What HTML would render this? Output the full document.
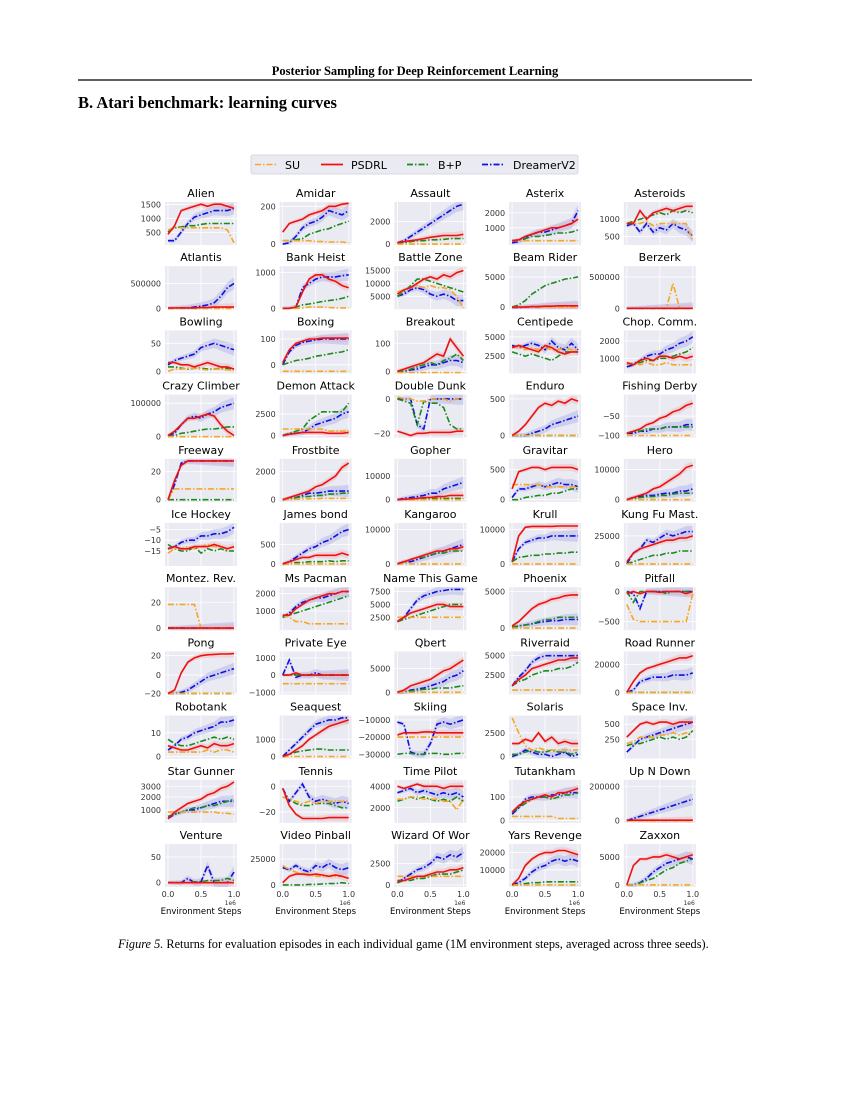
<!DOCTYPE html>
<html><head><meta charset="utf-8"><style>
body{margin:0;background:#fff;width:850px;height:1100px;overflow:hidden}
svg{display:block}
</style></head><body>
<svg id="s" width="850" height="1100" xmlns="http://www.w3.org/2000/svg">
<text x="415" y="75" text-anchor="middle" font-family="Liberation Serif,serif" font-weight="bold" font-size="12.5">Posterior Sampling for Deep Reinforcement Learning</text>
<line x1="78" y1="80" x2="752" y2="80" stroke="#000" stroke-width="1.2"/>
<text x="78" y="108" font-family="Liberation Serif,serif" font-weight="bold" font-size="16.5">B. Atari benchmark: learning curves</text>
<rect x="251" y="155" width="327" height="19" fill="#eaeaf2" stroke="#d8d8e0" rx="2"/>
<line x1="255" y1="164.5" x2="277" y2="164.5" stroke="#f5a623" stroke-width="1.5" stroke-dasharray="6,2,1.5,2"/>
<text x="285" y="169" font-family="DejaVu Sans,sans-serif" font-size="11">SU</text>
<line x1="321" y1="164.5" x2="343" y2="164.5" stroke="#ee1111" stroke-width="1.8"/>
<text x="351" y="169" font-family="DejaVu Sans,sans-serif" font-size="11">PSDRL</text>
<line x1="407" y1="164.5" x2="430" y2="164.5" stroke="#1a8a1a" stroke-width="1.8" stroke-dasharray="6,2,1.5,2"/>
<text x="438" y="169" font-family="DejaVu Sans,sans-serif" font-size="11">B+P</text>
<line x1="482" y1="164.5" x2="504" y2="164.5" stroke="#1010dd" stroke-width="1.8" stroke-dasharray="6,2,1.5,2"/>
<text x="513" y="169" font-family="DejaVu Sans,sans-serif" font-size="11">DreamerV2</text>
<text x="118" y="948" font-family="Liberation Serif,serif" font-size="12.3"><tspan font-style="italic">Figure 5.</tspan> Returns for evaluation episodes in each individual game (1M environment steps, averaged across three seeds).</text>
<g id="g"></g>
</svg>
<script>
function c(v){return typeof v==='number'?Array(11).fill(v):v}
var P=[
["Alien",[["1500",.94],["1000",.62],["500",.29]],[.35,.4,.4,.4,.4,.4,.4,.4,.4,.35,.05],[.25,.45,.8,.85,.9,.95,.9,.95,.95,.9,.85],[.3,.4,.42,.45,.45,.48,.5,.5,.5,.5,.5],[.1,.1,.3,.5,.65,.7,.75,.8,.8,.8,.85]],
["Amidar",[["200",.9],["0",.02]],[.1,.1,.1,.1,.1,.08,.08,.07,.07,.07,.05],[.3,.5,.55,.6,.7,.75,.8,.9,.9,.95,.97],[.1,.1,.12,.15,.25,.3,.35,.38,.45,.5,.55],[.02,.05,.2,.4,.5,.55,.65,.8,.75,.7,.8]],
["Assault",[["2000",.55],["0",.02]],.02,[.05,.08,.1,.12,.15,.18,.2,.22,.22,.22,.25],[.03,.05,.08,.1,.1,.12,.12,.13,.15,.15,.15],[.05,.1,.2,.3,.4,.5,.6,.7,.8,.9,.95]],
["Asterix",[["2000",.75],["1000",.4]],.1,[.1,.12,.2,.25,.3,.35,.4,.4,.45,.5,.6],[.1,.12,.15,.2,.2,.22,.25,.28,.28,.3,.35],[.05,.08,.15,.25,.3,.3,.35,.4,.45,.5,.8]],
["Asteroids",[["1000",.6],["500",.2]],[.5,.5,.5,.55,.45,.5,.5,.5,.5,.5,.1],[.5,.5,.8,.6,.75,.8,.85,.8,.85,.9,.9],[.5,.55,.6,.65,.7,.75,.7,.8,.75,.8,.75],[.45,.5,.3,.5,.3,.4,.35,.5,.4,.35,.2]],
["Atlantis",[["500000",.6],["0",.02]],.02,[.03,.03,.03,.03,.03,.04,.04,.05,.05,.05,.05],.02,[.02,.02,.03,.03,.05,.07,.1,.15,.3,.5,.6]],
["Bank Heist",[["1000",.85],["0",.02]],[.02,.02,.02,.03,.05,.05,.05,.04,.03,.03,.03],[.02,.02,.05,.4,.7,.8,.8,.7,.65,.55,.5],[.02,.02,.05,.1,.12,.15,.18,.2,.22,.25,.3],[.02,.02,.05,.5,.6,.7,.75,.75,.75,.78,.8]],
["Battle Zone",[["15000",.9],["10000",.6],["5000",.3]],[.4,.45,.5,.55,.5,.55,.5,.5,.45,.3,.02],[.35,.45,.5,.6,.7,.75,.7,.8,.75,.85,.9],[.3,.4,.55,.7,.7,.65,.6,.55,.5,.45,.4],[.3,.35,.45,.5,.45,.35,.3,.35,.3,.2,.2]],
["Beam Rider",[["5000",.75],["0",.05]],.05,[.05,.05,.05,.06,.06,.07,.07,.08,.08,.08,.08],[.05,.1,.2,.35,.45,.55,.6,.65,.7,.72,.75],[.04,.04,.05,.05,.05,.06,.06,.06,.06,.06,.06]],
["Berzerk",[["500000",.75],["0",.02]],[.02,.02,.02,.02,.02,.02,.02,.6,.02,.02,.02],.02,.02,.02],
["Bowling",[["50",.7],["0",.05]],[.05,.1,.1,.12,.12,.1,.08,.1,.1,.08,.08],[.25,.25,.2,.2,.15,.2,.25,.2,.15,.15,.1],[.15,.15,.12,.1,.12,.12,.1,.1,.12,.12,.1],[.2,.3,.35,.4,.45,.6,.65,.7,.65,.6,.55]],
["Boxing",[["100",.8],["0",.2]],.05,[.25,.55,.7,.75,.8,.8,.82,.82,.82,.82,.82],[.2,.25,.3,.32,.35,.4,.42,.45,.48,.5,.55],[.2,.5,.65,.72,.75,.78,.8,.8,.8,.8,.8]],
["Breakout",[["100",.7],["0",.05]],.02,[.05,.1,.15,.2,.25,.35,.45,.4,.8,.6,.4],[.05,.05,.1,.15,.2,.25,.2,.3,.35,.45,.3],[.03,.05,.08,.1,.15,.2,.2,.25,.3,.3,.25]],
["Centipede",[["5000",.85],["2500",.4]],[.6,.6,.55,.6,.55,.6,.55,.55,.6,.55,.55],[.6,.65,.6,.55,.5,.65,.6,.5,.45,.5,.5],[.5,.45,.4,.45,.4,.35,.3,.4,.5,.5,.5],[.65,.6,.65,.7,.65,.55,.75,.6,.55,.7,.55]],
["Chop. Comm.",[["2000",.75],["1000",.35]],[.2,.25,.2,.25,.2,.2,.25,.2,.2,.2,.2],[.25,.2,.3,.35,.3,.4,.4,.35,.4,.35,.4],[.2,.25,.25,.3,.3,.35,.35,.4,.45,.5,.6],[.15,.2,.3,.4,.45,.45,.55,.6,.7,.75,.85]],
["Crazy Climber",[["100000",.8],["0",.02]],.02,[.05,.15,.3,.45,.45,.5,.55,.5,.3,.15,.05],[.02,.05,.1,.12,.15,.18,.2,.2,.22,.25,.25],[.05,.1,.3,.45,.5,.45,.55,.6,.7,.75,.8]],
["Demon Attack",[["2500",.55],["0",.05]],[.2,.2,.2,.2,.2,.2,.2,.15,.15,.15,.15],[.05,.08,.1,.12,.12,.12,.12,.1,.1,.1,.12],[.05,.1,.15,.2,.4,.5,.6,.6,.6,.6,.8],[.05,.08,.1,.12,.2,.3,.35,.4,.45,.55,.6]],
["Double Dunk",[["0",.9],["\u221220",.1]],[.95,.9,.9,.85,.85,.9,.9,.9,.85,.9,.9],[.15,.1,.05,.1,.1,.12,.12,.12,.12,.15,.15],[.9,.85,.8,.3,.85,.8,.8,.7,.3,.2,.2],[.9,.9,.9,.3,.2,.9,.9,.9,.9,.9,.9]],
["Enduro",[["500",.9],["0",.05]],.05,[.05,.15,.3,.5,.7,.8,.75,.85,.8,.9,.85],.05,[.05,.05,.05,.1,.15,.2,.3,.35,.4,.45,.5]],
["Fishing Derby",[["\u221250",.5],["\u2212100",.05]],.05,[.1,.15,.2,.3,.35,.45,.5,.6,.65,.75,.8],[.1,.15,.15,.2,.2,.2,.25,.25,.25,.25,.25],[.1,.1,.15,.15,.2,.2,.25,.25,.25,.3,.3]],
["Freeway",[["20",.7],["0",.05]],[.05,.3,.3,.3,.3,.3,.3,.3,.3,.3,.3],[.05,.5,.85,.95,.95,.95,.95,.95,.95,.95,.95],.05,[.05,.4,.9,.95,.95,.95,.95,.95,.95,.95,.95]],
["Frostbite",[["2000",.7],["0",.05]],[.05,.05,.06,.06,.07,.07,.08,.08,.08,.08,.08],[.05,.1,.15,.2,.25,.35,.4,.5,.6,.8,.9],[.05,.08,.1,.12,.12,.15,.15,.18,.18,.2,.2],[.05,.08,.1,.15,.2,.2,.22,.25,.25,.25,.25]],
["Gopher",[["10000",.6],["0",.05]],.05,[.05,.06,.07,.08,.1,.1,.12,.12,.15,.15,.15],[.05,.05,.06,.06,.07,.07,.08,.08,.08,.08,.08],[.05,.08,.1,.12,.15,.2,.2,.3,.35,.4,.45]],
["Gravitar",[["500",.75],["0",.05]],[.4,.4,.4,.4,.4,.35,.35,.35,.35,.35,.35],[.3,.7,.75,.8,.8,.75,.8,.8,.8,.8,.75],[.05,.05,.1,.12,.15,.15,.2,.2,.25,.3,.3],[.1,.3,.3,.35,.4,.35,.4,.45,.4,.4,.35]],
["Hero",[["10000",.75],["0",.05]],.05,[.05,.1,.15,.2,.3,.35,.45,.55,.65,.8,.85],[.05,.08,.1,.12,.12,.15,.15,.18,.2,.2,.2],[.05,.1,.12,.15,.15,.18,.2,.2,.25,.25,.3]],
["Ice Hockey",[["\u22125",.85],["\u221210",.6],["\u221215",.35]],[.3,.4,.4,.45,.4,.45,.5,.45,.45,.4,.45],[.4,.45,.4,.4,.45,.45,.45,.5,.45,.4,.45],[.5,.4,.35,.35,.45,.3,.4,.35,.4,.35,.35],[.4,.45,.55,.6,.6,.7,.7,.75,.75,.8,.9]],
["James bond",[["500",.5],["0",.05]],.05,[.05,.1,.15,.2,.2,.25,.25,.25,.25,.3,.25],[.05,.05,.08,.08,.1,.1,.1,.12,.1,.12,.12],[.05,.1,.2,.3,.4,.45,.55,.6,.7,.8,.85]],
["Kangaroo",[["10000",.85],["0",.05]],.05,[.05,.1,.15,.2,.25,.3,.35,.35,.4,.4,.45],[.05,.08,.15,.2,.2,.25,.3,.3,.35,.35,.35],[.05,.1,.1,.15,.2,.25,.3,.35,.4,.45,.5]],
["Krull",[["10000",.85],["0",.05]],.05,[.1,.7,.9,.92,.92,.92,.92,.93,.93,.93,.93],[.1,.2,.22,.25,.25,.28,.28,.3,.3,.32,.32],[.1,.4,.55,.6,.65,.65,.7,.7,.7,.7,.7]],
["Kung Fu Mast.",[["25000",.7],["0",.05]],.05,[.1,.3,.4,.45,.5,.55,.6,.6,.65,.65,.7],[.05,.1,.15,.2,.25,.25,.3,.3,.35,.35,.35],[.05,.3,.4,.6,.55,.65,.75,.7,.75,.8,.8]],
["Montez. Rev.",[["20",.65],["0",.05]],[.6,.6,.6,.6,.6,.05,.05,.05,.05,.05,.05],.05,.05,.05],
["Ms Pacman",[["2000",.85],["1000",.45]],[.35,.3,.2,.2,.15,.15,.15,.15,.15,.15,.15],[.35,.35,.5,.6,.7,.75,.8,.85,.85,.9,.9],[.3,.35,.4,.45,.5,.55,.6,.65,.7,.75,.8],[.3,.4,.55,.65,.7,.75,.75,.8,.85,.9,.9]],
["Name This Game",[["7500",.9],["5000",.6],["2500",.3]],.3,[.2,.3,.4,.45,.5,.55,.6,.6,.55,.55,.55],[.2,.25,.3,.35,.4,.45,.5,.55,.6,.6,.6],[.2,.3,.5,.7,.8,.85,.9,.92,.95,.95,.95]],
["Phoenix",[["5000",.9],["0",.05]],.05,[.1,.2,.35,.5,.6,.65,.72,.75,.8,.82,.82],[.08,.1,.12,.15,.2,.25,.25,.3,.3,.3,.3],[.05,.1,.12,.15,.18,.2,.22,.22,.25,.25,.25]],
["Pitfall",[["0",.9],["\u2212500",.2]],[.6,.25,.2,.2,.2,.2,.2,.2,.2,.2,.85],[.85,.9,.85,.9,.9,.88,.9,.9,.9,.85,.9],[.9,.65,.9,.9,.9,.9,.85,.9,.9,.9,.9],[.9,.85,.5,.9,.9,.9,.9,.9,.9,.9,.9]],
["Pong",[["20",.9],["0",.45],["\u221220",.02]],.02,[.02,.1,.5,.75,.85,.9,.92,.93,.94,.94,.95],.02,[.02,.02,.05,.1,.2,.3,.4,.45,.5,.55,.6]],
["Private Eye",[["1000",.85],["0",.45],["\u22121000",.05]],.25,[.45,.45,.5,.45,.45,.45,.45,.45,.45,.45,.45],.45,[.45,.8,.4,.45,.45,.5,.45,.45,.45,.45,.45]],
["Qbert",[["5000",.6],["0",.05]],.05,[.05,.1,.2,.25,.3,.35,.45,.55,.6,.7,.8],[.05,.05,.08,.1,.12,.12,.15,.15,.15,.18,.2],[.05,.05,.1,.12,.15,.2,.25,.3,.4,.45,.55]],
["Riverraid",[["5000",.9],["2500",.45]],.1,[.2,.35,.45,.6,.65,.7,.75,.8,.8,.85,.85],[.2,.3,.35,.45,.5,.55,.55,.6,.6,.65,.75],[.2,.4,.55,.75,.85,.9,.9,.9,.9,.9,.9]],
["Road Runner",[["20000",.7],["0",.05]],.05,[.05,.3,.5,.6,.65,.7,.75,.8,.85,.85,.9],.05,[.05,.1,.3,.35,.4,.4,.4,.45,.45,.45,.5]],
["Robotank",[["10",.6],["0",.05]],[.15,.15,.15,.15,.15,.15,.2,.15,.2,.2,.15],[.3,.25,.2,.2,.25,.3,.25,.35,.3,.3,.35],[.45,.35,.3,.3,.35,.4,.45,.5,.45,.5,.45],[.2,.3,.45,.5,.6,.65,.7,.75,.85,.85,.9]],
["Seaquest",[["1000",.45],["0",.05]],.05,[.05,.1,.2,.3,.45,.55,.65,.75,.8,.85,.9],[.05,.1,.15,.18,.2,.22,.22,.2,.2,.2,.2],[.05,.2,.35,.5,.65,.8,.85,.9,.9,.95,.95]],
["Skiing",[["\u221210000",.9],["\u221220000",.5],["\u221230000",.1]],.5,[.55,.6,.6,.6,.62,.62,.6,.6,.6,.6,.6],[.1,.12,.12,.1,.1,.12,.12,.1,.1,.12,.12],[.85,.8,.15,.1,.1,.35,.8,.85,.8,.85,.9]],
["Solaris",[["2500",.6],["0",.05]],[.95,.6,.3,.2,.25,.2,.2,.2,.2,.2,.2],[.35,.35,.45,.4,.6,.4,.5,.35,.4,.35,.35],[.1,.1,.15,.2,.15,.15,.2,.15,.15,.1,.15],[.05,.1,.2,.15,.1,.1,.05,.1,.15,.05,.1]],
["Space Inv.",[["500",.8],["250",.45]],[.35,.4,.5,.5,.5,.55,.55,.6,.55,.6,.6],[.5,.65,.8,.85,.8,.85,.85,.8,.85,.85,.85],[.3,.35,.35,.4,.45,.5,.45,.5,.45,.5,.65],[.15,.3,.45,.5,.55,.6,.65,.7,.75,.8,.85]],
["Star Gunner",[["3000",.85],["2000",.6],["1000",.3]],[.25,.25,.25,.25,.25,.25,.25,.25,.22,.22,.2],[.1,.25,.35,.45,.5,.55,.65,.7,.8,.85,.95],[.15,.2,.25,.3,.35,.35,.4,.4,.45,.5,.55],[.1,.2,.25,.3,.3,.35,.4,.45,.5,.5,.5]],
["Tennis",[["0",.85],["\u221220",.25]],[.6,.55,.5,.45,.5,.45,.5,.5,.5,.5,.5],[.8,.4,.2,.1,.1,.1,.1,.12,.12,.12,.12],[.6,.55,.45,.4,.4,.45,.45,.45,.4,.35,.35],[.8,.5,.7,.9,.6,.5,.55,.5,.45,.5,.45]],
["Time Pilot",[["4000",.85],["2000",.35]],[.55,.55,.6,.6,.55,.55,.55,.5,.5,.3,.55],[.85,.8,.85,.9,.85,.85,.85,.8,.85,.85,.85],[.5,.55,.6,.55,.6,.55,.5,.55,.5,.6,.5],[.7,.75,.8,.7,.75,.7,.65,.7,.65,.7,.6]],
["Tutankham",[["100",.6],["0",.05]],[.15,.15,.15,.15,.15,.15,.15,.1,.1,.1,.1],[.25,.4,.5,.55,.6,.65,.6,.7,.7,.75,.8],[.25,.35,.45,.55,.6,.6,.55,.6,.65,.65,.7],[.2,.35,.55,.6,.6,.6,.65,.65,.7,.7,.7]],
["Up N Down",[["200000",.85],["0",.05]],.05,.06,.05,[.05,.1,.15,.2,.25,.3,.35,.4,.45,.5,.55]],
["Venture",[["50",.7],["0",.1]],.1,.1,[.1,.1,.1,.1,.12,.12,.15,.15,.15,.2,.15],[.1,.1,.1,.2,.1,.12,.5,.1,.1,.1,.35]],
["Video Pinball",[["25000",.65],["0",.05]],[.5,.4,.35,.3,.3,.25,.25,.25,.25,.25,.2],[.1,.25,.3,.3,.28,.3,.28,.25,.28,.25,.2],[.05,.05,.05,.05,.06,.06,.07,.08,.08,.1,.08],[.45,.4,.5,.4,.35,.5,.45,.55,.45,.4,.45]],
["Wizard Of Wor",[["2500",.55],["0",.05]],.25,[.15,.15,.2,.25,.25,.3,.35,.35,.4,.4,.45],[.1,.15,.15,.2,.2,.25,.3,.3,.3,.35,.4],[.1,.2,.3,.4,.45,.55,.7,.65,.75,.7,.8]],
["Yars Revenge",[["20000",.8],["10000",.4]],.05,[.05,.2,.5,.65,.75,.8,.8,.85,.85,.8,.75],[.05,.05,.08,.1,.1,.12,.12,.12,.12,.12,.12],[.05,.1,.2,.35,.45,.5,.6,.65,.6,.65,.6]],
["Zaxxon",[["5000",.7],["0",.05]],.05,[.05,.5,.65,.65,.7,.7,.75,.7,.65,.7,.75],[.05,.05,.1,.15,.2,.3,.4,.45,.55,.6,.65],[.05,.05,.1,.2,.35,.45,.55,.6,.65,.7,.65]]
];
var cols=["#f5a623","#ee1111","#1a8a1a","#1010dd"],dash=["6,2,1.5,2","","6,2,1.5,2","6,2,1.5,2"];
var h="",F='font-family="DejaVu Sans,sans-serif"';
P.forEach(function(p,i){
 var r=Math.floor(i/5),cI=i%5,x0=165+cI*114.7,y0=202+r*64.2,w=72,ht=43;
 h+='<rect x="'+x0+'" y="'+y0+'" width="'+w+'" height="'+ht+'" fill="#eaeaf2"/>';
 h+='<text x="'+(x0+w/2)+'" y="'+(y0-5)+'" text-anchor="middle" '+F+' font-size="11">'+p[0]+'</text>';
 [0,.5,1].forEach(function(t){var xx=x0+3+t*66;h+='<line x1="'+xx+'" y1="'+y0+'" x2="'+xx+'" y2="'+(y0+ht)+'" stroke="#fff" stroke-width="0.8"/>';});
 p[1].forEach(function(t){var yy=y0+ht*(1-t[1]);h+='<line x1="'+x0+'" y1="'+yy+'" x2="'+(x0+w)+'" y2="'+yy+'" stroke="#fff" stroke-width="0.8"/><text x="'+(x0-4)+'" y="'+(yy+3)+'" text-anchor="end" '+F+' font-size="8" fill="#333">'+t[0]+'</text>';});
 for(var k=3;k>=0;k--){var d=c(p[2+k]);
  if(k==3||k==1){var up=[],dn=[];for(var j=0;j<11;j++){var e=0.04+0.1*j/10*(k==3?1:0.5);up.push((x0+3+j*6.6).toFixed(1)+','+(y0+ht*(1-Math.min(1,d[j]+e))).toFixed(1));dn.unshift((x0+3+j*6.6).toFixed(1)+','+(y0+ht*(1-Math.max(0,d[j]-e))).toFixed(1));}
   h+='<polygon points="'+up.join(' ')+' '+dn.join(' ')+'" fill="'+(k==3?'#9090e0':'#f0a0a0')+'" opacity="0.3"/>';}
 }
 [3,2,0,1].forEach(function(k){var d=c(p[2+k]),pts=[];for(var j=0;j<11;j++)pts.push((x0+3+j*6.6).toFixed(1)+','+(y0+ht*(1-d[j])).toFixed(1));
  h+='<polyline points="'+pts.join(' ')+'" fill="none" stroke="'+cols[k]+'" stroke-width="1.6"'+(dash[k]?' stroke-dasharray="'+dash[k]+'"':'')+'/>';});
 if(r==10){[["0.0",0],["0.5",.5],["1.0",1]].forEach(function(t){var xx=x0+3+t[1]*66;h+='<text x="'+xx+'" y="'+(y0+ht+10)+'" text-anchor="middle" '+F+' font-size="8" fill="#333">'+t[0]+'</text>';});
  h+='<text x="'+(x0+w-1)+'" y="'+(y0+ht+18)+'" text-anchor="end" '+F+' font-size="6" fill="#333">1e6</text>';
  h+='<text x="'+(x0+w/2)+'" y="'+(y0+ht+27)+'" text-anchor="middle" '+F+' font-size="8.5">Environment Steps</text>';}
});
document.getElementById("g").innerHTML=h;
</script>
</body></html>
